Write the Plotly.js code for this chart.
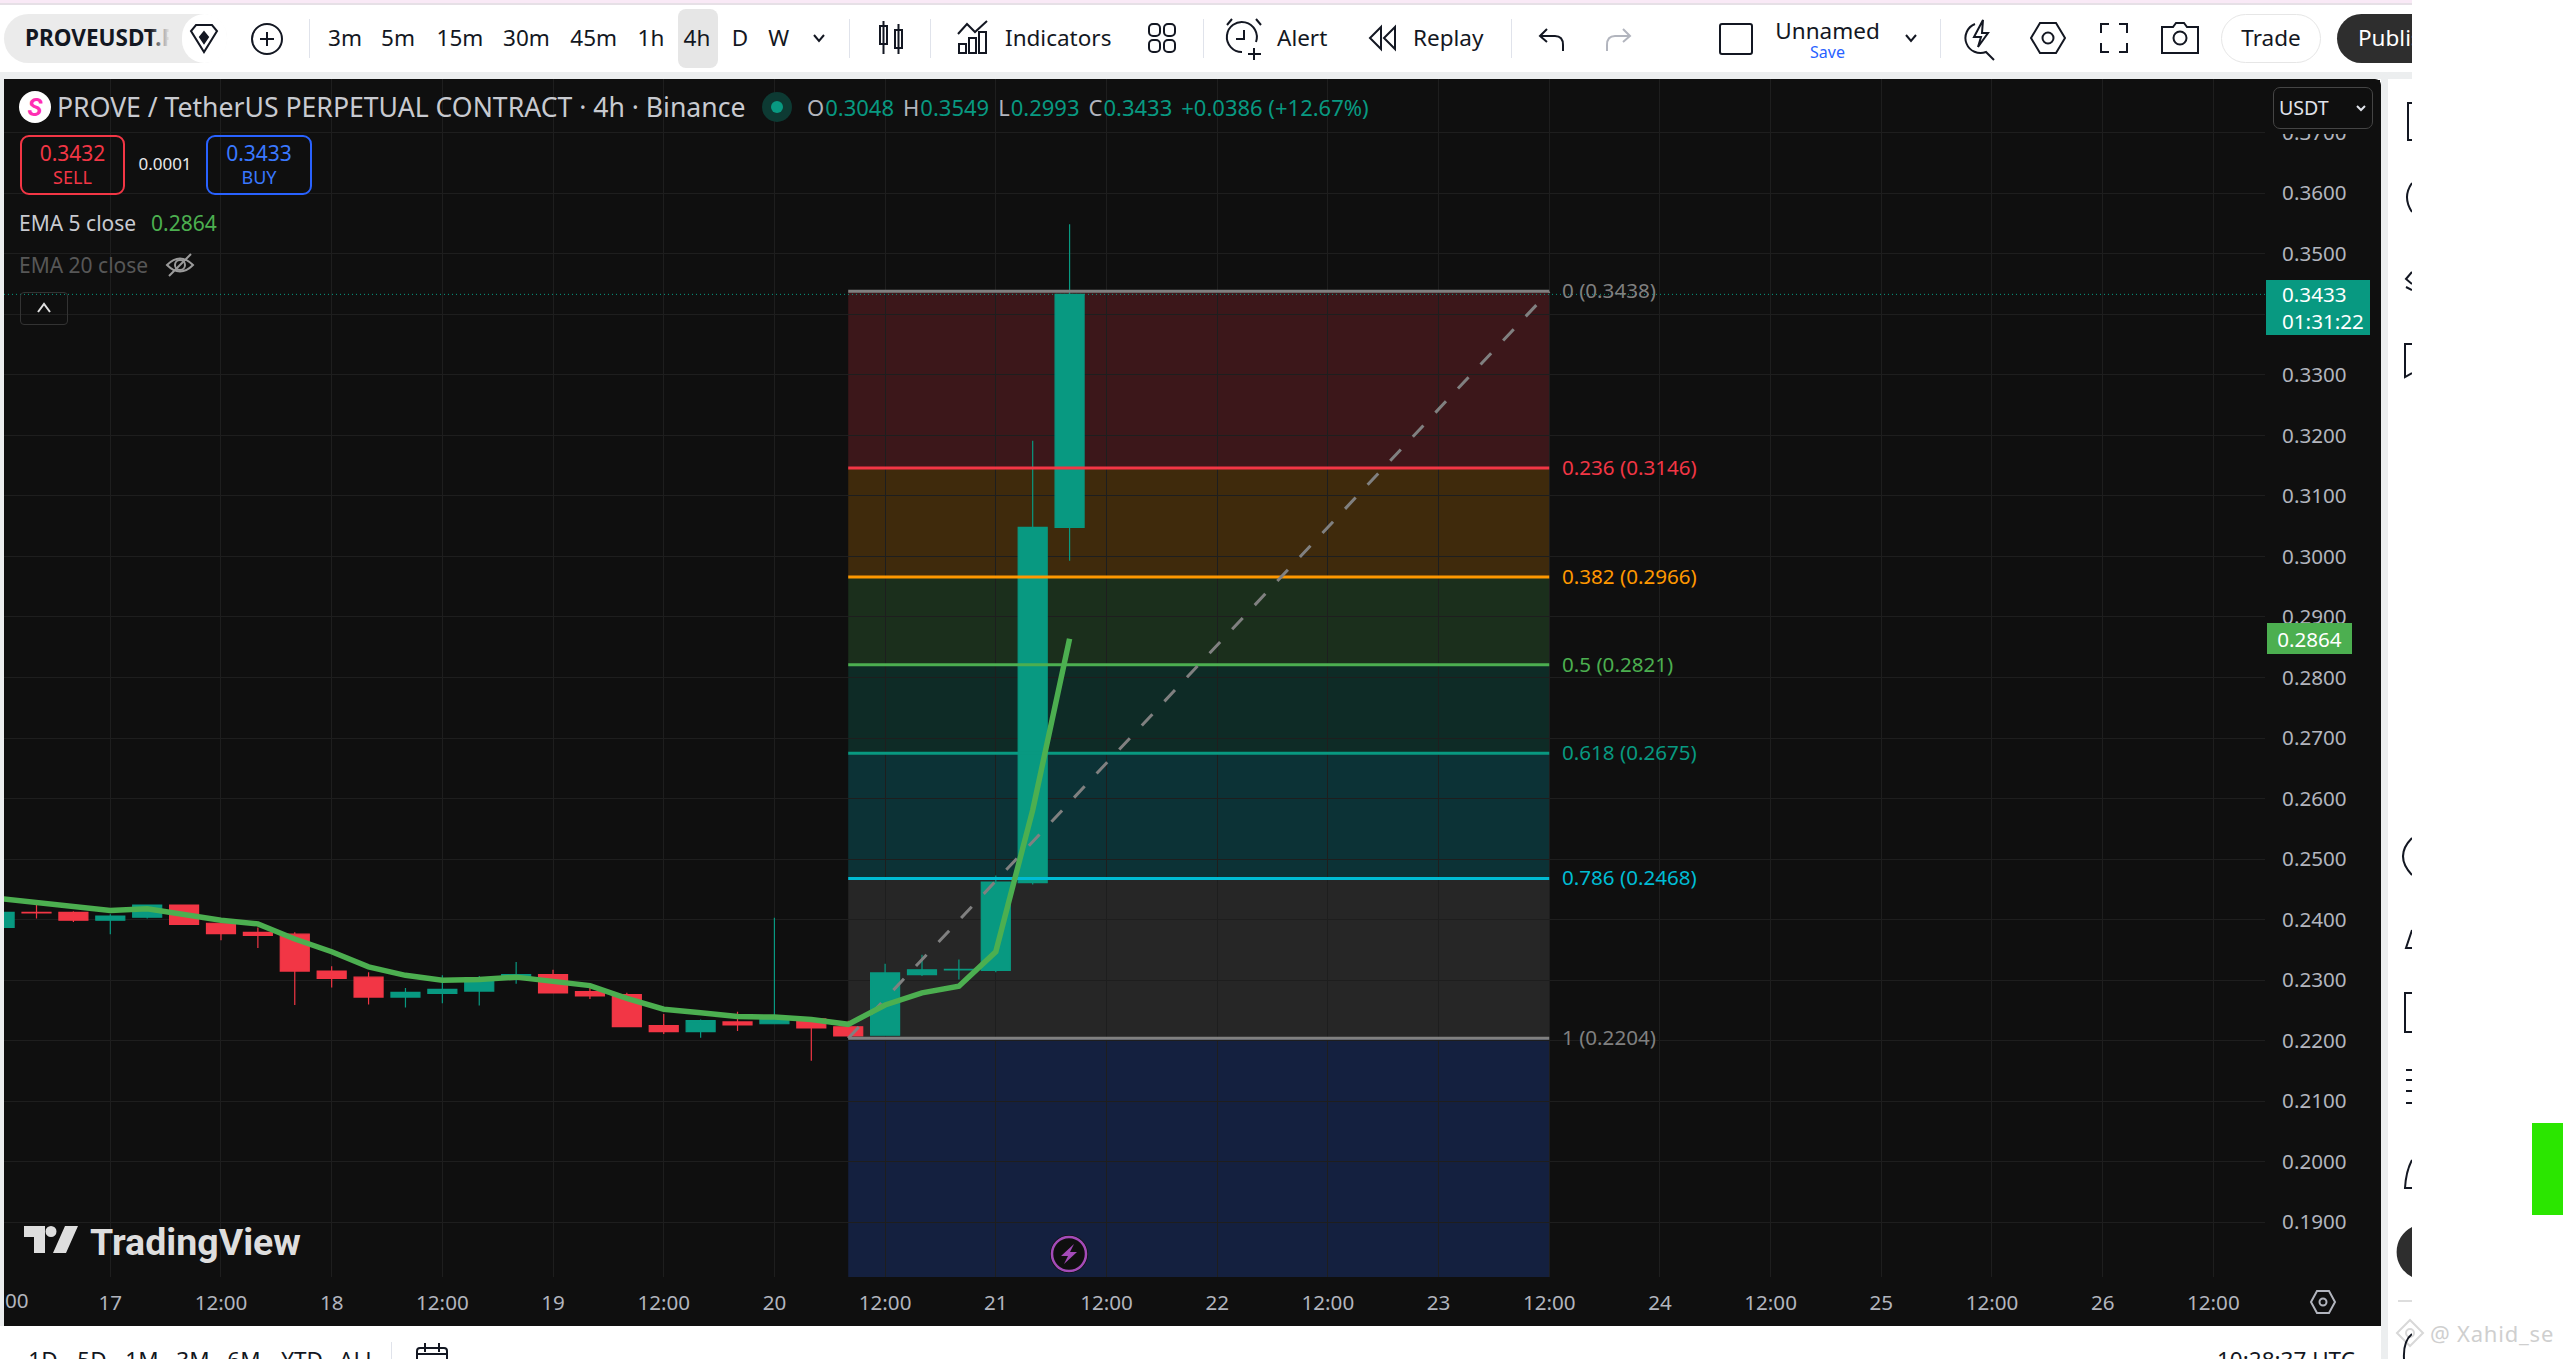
<!DOCTYPE html>
<html><head><meta charset="utf-8">
<script src="https://cdn.plot.ly/plotly-3.0.1.min.js"></script>
<style>
html,body{margin:0;padding:0;width:2563px;height:1359px;overflow:hidden;background:#fff;font-family:"Noto Sans",Roboto,sans-serif}
.a{position:absolute;white-space:nowrap}
.t{position:absolute;white-space:nowrap;transform:translate(-50%,-50%);color:#131722;font-size:22.5px;line-height:1}
.l{position:absolute;white-space:nowrap;transform:translateY(-50%);line-height:1}
#over svg{position:absolute;overflow:visible;fill:none;stroke:#131722;stroke-width:2}
#plot{position:absolute;left:0;top:0;width:2563px;height:1359px;z-index:2}
#under{z-index:1}#over{position:absolute;left:0;top:0;width:2563px;height:1359px;z-index:3;pointer-events:none}
</style></head><body>
<div id="under">
 <div class="a" style="left:0;top:0;width:2412px;height:3px;background:#f9e9f6"></div>
 <div class="a" style="left:0;top:3px;width:2412px;height:2px;background:#e6e0e6"></div>
 <div class="a" style="left:0;top:72px;width:2412px;height:7px;background:#eceeef"></div>
 <div class="a" style="left:0;top:72px;width:4px;height:1254px;background:#eceeef"></div>
 <div class="a" style="left:2381px;top:72px;width:7px;height:1287px;background:#eceeef"></div>
 <div class="a" style="left:4px;top:79px;width:2377px;height:1247px;background:#0f0f0f;border-radius:6px 6px 0 0"></div>
</div>
<div id="plot"></div>
<div id="over">
 <div id="toolbar" class="a" style="left:0;top:5px;width:2412px;height:67px;overflow:hidden"></div>
 <div id="legend"></div>
 <div id="rightclip" class="a" style="left:2388px;top:79px;width:24px;height:1280px;overflow:hidden"></div>
 <div id="bottom" class="a" style="left:0;top:1326px;width:2381px;height:33px;overflow:hidden"></div>
</div>
<script>
// ---------- data (4h bars, index 0 = day 17 00:00) ----------
const barIndex=[-3,-2,-1,0,1,2,3,4,5,6,7,8,9,10,11,12,13,14,15,16,17,18,19,20,21,22,23,24,25,26];
const opens =[0.2387,0.2412,0.2412,0.2399,0.2404,0.2424,0.2394,0.2379,0.2376,0.2315,0.2305,0.2272,0.2278,0.2282,0.2302,0.2309,0.2281,0.2276,0.2225,0.2215,0.2231,0.2228,0.2236,0.2223,0.2209,0.2309,0.2317,0.2316,0.2461,0.3048];
const highs =[0.2412,0.2427,0.2414,0.2409,0.2424,0.2424,0.2397,0.2387,0.2379,0.2323,0.2313,0.2287,0.2308,0.2307,0.2330,0.2317,0.2292,0.2279,0.2244,0.2235,0.2248,0.2403,0.2239,0.2233,0.2327,0.2342,0.2334,0.2473,0.3191,0.3549];
const lows  =[0.2387,0.2402,0.2396,0.2376,0.2402,0.2391,0.2366,0.2353,0.2259,0.2288,0.2260,0.2255,0.2262,0.2258,0.2294,0.2279,0.2269,0.2223,0.2211,0.2205,0.2216,0.2228,0.2167,0.2205,0.2208,0.2307,0.2301,0.2313,0.2458,0.2993];
const closes=[0.2412,0.2411,0.2399,0.2406,0.2424,0.2392,0.2377,0.2374,0.2315,0.2303,0.2272,0.2280,0.2285,0.2304,0.2309,0.2279,0.2274,0.2223,0.2215,0.2233,0.2226,0.2236,0.2221,0.2208,0.2312,0.2317,0.2318,0.2462,0.3048,0.3433];
const emaX=[-3,-2,-1,0,1,2,3,4,5,6,7,8,9,10,11,12,13,14,15,16,17,18,19,20,21,22,23,24,25,26];
const ema5=[0.2435,0.2428,0.2420,0.2415,0.2418,0.2409,0.2399,0.2393,0.2368,0.2347,0.2322,0.2308,0.2300,0.2301,0.2305,0.2298,0.2291,0.2270,0.2252,0.2246,0.2240,0.2239,0.2235,0.2227,0.2259,0.2279,0.2290,0.2347,0.2581,0.2864];
const fibLabels=["0","0.236","0.382","0.5","0.618","0.786","1"];
const fibPrices=[0.3438,0.3146,0.2966,0.2821,0.2675,0.2468,0.2204];
const fibColors=["#808080","#f23645","#ff9800","#4caf50","#089981","#00bcd4","#808080"];
const fibFills =["rgba(242,54,69,.2)","rgba(255,152,0,.2)","rgba(76,175,80,.2)","rgba(8,153,129,.2)","rgba(0,188,212,.2)","rgba(128,128,128,.2)","rgba(41,98,255,.2)"];
const fibStart=20, fibEnd=39, fibFloor=0.17;
const lastPrice=0.3433, lastCountdown="01:31:22", emaLast=0.2864;
const xTickVals=[0,3,6,9,12,15,18,21,24,27,30,33,36,39,42,45,48,51,54,57];
const xTickText=["17","12:00","18","12:00","19","12:00","20","12:00","21","12:00","22","12:00","23","12:00","24","12:00","25","12:00","26","12:00"];
const yTickVals=[0.19,0.20,0.21,0.22,0.23,0.24,0.25,0.26,0.27,0.28,0.29,0.30,0.31,0.32,0.33,0.34,0.35,0.36,0.37];
const timeframes=[["3m",345],["5m",398],["15m",460],["30m",526.5],["45m",593.7],["1h",651],["4h",697],["D",740],["W",778.6]];
const rangeButtons=[["1D",43],["5D",92],["1M",142],["3M",193],["6M",244],["YTD",302],["ALL",358]];
// -----------------------------------------------------------
const GREEN="#089981",RED="#f23645",GRID="#1e1e1e",AXT="#b2b5be",FF='"Noto Sans",Roboto,sans-serif',FS=20.6;
const xr=[-2.881,58.40], yr=[0.18096,0.37888];
const traces=[];
fibPrices.forEach((p,i)=>traces.push({type:"scatter",mode:"lines",x:[fibStart,fibEnd],y:[p,p],line:{color:fibColors[i],width:3},hoverinfo:"skip",showlegend:false}));
traces.push({type:"scatter",mode:"lines",x:[fibStart,fibEnd],y:[fibPrices[6],fibPrices[0]],line:{color:"#808080",width:3,dash:"15.5px,17.5px"},hoverinfo:"skip",showlegend:false});
traces.push({type:"scatter",mode:"lines",x:emaX,y:ema5,line:{color:"#4caf50",width:5.5,shape:"linear"},hoverinfo:"skip",showlegend:false});
traces.push({type:"candlestick",x:barIndex,open:opens,high:highs,low:lows,close:closes,whiskerwidth:0,
  increasing:{line:{color:GREEN,width:1.2},fillcolor:GREEN},decreasing:{line:{color:RED,width:1.2},fillcolor:RED},hoverinfo:"skip",showlegend:false});
traces.push({type:"scatter",mode:"lines",x:xr,y:[lastPrice,lastPrice],line:{color:GREEN,width:1,dash:"1px,3px"},hoverinfo:"skip",showlegend:false});

const shapes=fibFills.map((f,i)=>({type:"rect",layer:"below",xref:"x",yref:"y",x0:fibStart,x1:fibEnd,y0:fibPrices[i],y1:i<6?fibPrices[i+1]:fibFloor,fillcolor:f,line:{width:0}}));

const annotations=fibLabels.map((l,i)=>({xref:"x",yref:"y",x:fibEnd,y:fibPrices[i],xanchor:"left",yanchor:"middle",xshift:11,yshift:1,showarrow:false,
  text:l+" ("+fibPrices[i].toFixed(4)+")",font:{family:FF,size:FS,color:fibColors[i]}}));
annotations.push({xref:"paper",yref:"y",x:1,y:lastPrice,xanchor:"left",yanchor:"middle",xshift:1,yshift:-13.5,showarrow:false,width:104,height:55,borderpad:0,borderwidth:0,align:"left",bgcolor:GREEN,
  text:"\u00a0\u00a0\u00a0"+lastPrice.toFixed(4)+"<br>\u00a0\u00a0\u00a0"+lastCountdown,font:{family:FF,size:FS,color:"#fff"}});
annotations.push({xref:"paper",yref:"y",x:1,y:emaLast,xanchor:"left",yanchor:"middle",xshift:2,showarrow:false,width:85,height:31,borderpad:0,borderwidth:0,align:"center",bgcolor:"#4caf50",
  text:emaLast.toFixed(4),font:{family:FF,size:FS,color:"#fff"}});
annotations.push({xref:"paper",yref:"paper",x:0,y:0,xanchor:"left",yanchor:"top",yshift:-7,xshift:-1,showarrow:false,text:"00",font:{family:FF,size:FS,color:AXT}});
annotations.push({xref:"paper",yref:"paper",x:0,y:0,xanchor:"left",yanchor:"middle",xshift:84,yshift:35,showarrow:false,text:"<b>TradingView</b>",font:{family:"Roboto,sans-serif",size:37.5,color:"#dedede"}});

const layout={width:2563,height:1359,margin:{l:4,r:298,t:79,b:82,pad:0},autosize:false,showlegend:false,
 paper_bgcolor:"rgba(0,0,0,0)",plot_bgcolor:"#0f0f0f",boxmode:"overlay",boxgap:0.214,boxgroupgap:0,hovermode:false,dragmode:false,
 font:{family:FF,color:AXT,size:FS},
 xaxis:{type:"linear",range:xr,tickmode:"array",tickvals:xTickVals,ticktext:xTickText,showgrid:true,gridcolor:GRID,gridwidth:1,zeroline:false,showline:false,
   ticks:"outside",ticklen:7,tickcolor:"rgba(0,0,0,0)",tickfont:{size:FS,color:AXT,family:FF},rangeslider:{visible:false},fixedrange:true},
 yaxis:{type:"linear",side:"right",range:yr,tickmode:"array",tickvals:yTickVals,tickformat:".4f",showgrid:true,gridcolor:GRID,gridwidth:1,zeroline:false,showline:false,
   ticks:"outside",ticklen:12,tickcolor:"rgba(0,0,0,0)",tickfont:{size:FS,color:AXT,family:FF},fixedrange:true},
 shapes,annotations};
Plotly.newPlot("plot",traces,layout,{displayModeBar:false,staticPlot:true});

// ---------- page chrome ----------
const tb=document.getElementById("toolbar"),CY=33; // centre within toolbar (y=38 on page)
const add=(root,h)=>root.insertAdjacentHTML("beforeend",h);
add(tb,`<div class="a" style="left:4px;top:9px;width:223px;height:49px;border-radius:25px;background:#ebebeb"></div>
<div class="l" style="left:25px;top:${CY}px;font-size:22.5px;font-weight:700;color:#131722;width:148px;overflow:hidden">PROVEUSDT.P</div>
<div class="a" style="left:150px;top:14px;width:26px;height:38px;background:linear-gradient(90deg,rgba(235,235,235,0),#ebebeb 75%)"></div>
<div class="a" style="left:182px;top:9px;width:45px;height:49px;border-radius:25px;background:#fff"></div>
<svg style="left:204px;top:${CY}px" width="1" height="1"><path d="M-8 -13H8L13 -7 0 14-13 -7Z" /><path d="M0 -6L4 -1 0 5-4 -1Z" fill="#131722"/></svg>
<svg style="left:267px;top:${CY+1}px" width="1" height="1"><circle r="15"/><path d="M-7 0H7M0 -7V7"/></svg>
<div class="a" style="left:678px;top:4px;width:40px;height:59px;border-radius:8px;background:#e6e6e6"></div>`);
timeframes.forEach(([s,x])=>add(tb,`<div class="t" style="left:${x}px;top:${CY}px">${s}</div>`));
[309,849,930,1203,1511,1939.6].forEach(x=>add(tb,`<div class="a" style="left:${x}px;top:14px;width:1px;height:39px;background:#e0e3eb"></div>`));
const tx=(s,x)=>`<div class="l" style="left:${x}px;top:${CY}px;font-size:22.5px;color:#131722">${s}</div>`;
add(tb,`<svg style="left:819px;top:${CY}px" width="1" height="1"><path d="M-5 -3L0 3 5 -3"/></svg>
<svg style="left:891px;top:${CY}px" width="1" height="1"><rect x="-11" y="-12" width="7" height="18"/><rect x="4" y="-8" width="7" height="18"/><path d="M-7.500 -17V16M7.500 -14V16"/></svg>
<svg style="left:973px;top:${CY}px" width="1" height="1"><path d="M-15 -4L-6 -14 2 -6 14 -17"/><rect x="-14" y="6" width="7" height="9"/><rect x="-4" y="0" width="7" height="15"/><rect x="6" y="-6" width="7" height="21"/></svg>
${tx("Indicators",1005)}
<svg style="left:1162px;top:${CY}px" width="1" height="1"><rect x="-13" y="-14" width="11" height="12" rx="4"/><rect x="2" y="-14" width="11" height="12" rx="4"/><rect x="-13" y="2" width="11" height="12" rx="4"/><rect x="2" y="2" width="11" height="12" rx="4"/></svg>
<svg style="left:1244px;top:${CY}px" width="1" height="1"><path d="M12 4A15 15 0 1 0 -2 14M0 -8V1H-8M-12 -19L-17 -13M12 -19L17 -13M10 10V22M4 16H17"/></svg>${tx("Alert",1277)}
<svg style="left:1383px;top:${CY}px" width="1" height="1"><path d="M-2 -11L-13 0-2 11ZM12 -11L1 0 12 11Z"/></svg>${tx("Replay",1413)}
<svg style="left:1552px;top:${CY}px" width="1" height="1"><path d="M-5 -9L-12 -2-5 4M-12 -2H3Q11 -2 11 7V13"/></svg>
<svg style="left:1618px;top:${CY}px" width="1" height="1"><path stroke="#b2b5be" d="M5 -9L12 -2 5 4M12 -2H-3Q-11 -2-11 7V13"/></svg>
<div class="a" style="left:1719px;top:18px;width:30px;height:28px;border:2px solid #131722;border-radius:3px"></div>
<div class="t" style="left:1827.500px;top:26px">Unnamed</div>
<div class="t" style="left:1827.500px;top:47px;font-size:16px;color:#2962ff">Save</div>
<svg style="left:1911px;top:${CY}px" width="1" height="1"><path d="M-5 -3L0 3 5 -3"/></svg>
<svg style="left:1980px;top:${CY}px" width="1" height="1"><path d="M-5 -14A15 15 0 1 0 6 14L14 22M3 -18L-6 -1H1L-2 9 8 -5H2Z"/></svg>
<svg style="left:2047.500px;top:${CY}px" width="1" height="1"><path d="M-8 -15H8L17 0 8 15H-8L-17 0Z"/><circle r="5.500"/></svg>
<svg style="left:2113.500px;top:${CY}px" width="1" height="1"><path d="M-5 -14H-13V-5M5 -14H13V-5M-13 5V14H-5M13 5V14H5"/></svg>
<svg style="left:2179.500px;top:${CY}px" width="1" height="1"><path d="M-18 -11H-7L-4 -15H4L7 -11H18V15H-18Z"/><circle r="6.500"/></svg>
<div class="a" style="left:2221px;top:9px;width:100px;height:49px;border:1px solid #e6e6e6;border-radius:25px;box-sizing:border-box"></div>
<div class="t" style="left:2271px;top:${CY}px">Trade</div>
<div class="a" style="left:2337px;top:9px;width:130px;height:49px;border-radius:25px;background:#2e2e2e"></div>
<div class="l" style="left:2358px;top:${CY}px;font-size:22.5px;color:#fff">Publish</div>`);

const lg=document.getElementById("legend");
const ohlc=(k,v)=>`<span style="color:${AXT};margin-right:1px">${k}</span><span style="color:${GREEN}">${v}</span><span style="display:inline-block;width:9px"></span>`;
add(lg,`<svg style="left:35px;top:107px" width="1" height="1"><circle r="16" fill="#fff" stroke="none"/><text x="0" y="9" text-anchor="middle" font-size="25" font-weight="700" font-style="italic" fill="#ff2fb3" stroke="none" font-family="Roboto">S</text></svg>
<div class="l" style="left:57px;top:107px;font-size:26.6px;color:#c8cad0">PROVE / TetherUS PERPETUAL CONTRACT · 4h · Binance</div>
<svg style="left:777px;top:107px" width="1" height="1"><circle r="15" fill="#0d3a33" stroke="none"/><circle r="6" fill="${GREEN}" stroke="none"/></svg>
<div class="l" style="left:807px;top:107px;font-size:22px">${ohlc("O","0.3048")}${ohlc("H","0.3549")}${ohlc("L","0.2993")}${ohlc("C","0.3433")}<span style="color:${GREEN}">+0.0386 (+12.67%)</span></div>
<div class="a" style="left:20px;top:135px;width:105px;height:60px;border:2px solid ${RED};border-radius:9px;box-sizing:border-box"></div>
<div class="t" style="left:72.500px;top:153px;font-size:21px;color:${RED}">0.3432</div>
<div class="t" style="left:72.500px;top:177px;font-size:18px;color:${RED}">SELL</div>
<div class="t" style="left:165px;top:163px;font-size:17px;color:#e8e8e8">0.0001</div>
<div class="a" style="left:206px;top:135px;width:106px;height:60px;border:2px solid #2962ff;border-radius:9px;box-sizing:border-box"></div>
<div class="t" style="left:259px;top:153px;font-size:21px;color:#3a78ff">0.3433</div>
<div class="t" style="left:259px;top:177px;font-size:18px;color:#3a78ff">BUY</div>
<div class="l" style="left:19px;top:223px;font-size:21px;color:#c8cad0">EMA 5 close</div>
<div class="l" style="left:151px;top:223px;font-size:21px;color:#4caf50">0.2864</div>
<div class="l" style="left:19px;top:265px;font-size:21px;color:#575757">EMA 20 close</div>
<svg style="left:180px;top:265px" width="1" height="1" ><path stroke="#9a9a9a" d="M-13 0Q0 -13 13 0Q0 13-13 0ZM-11 11L11 -11"/><circle r="5" stroke="#9a9a9a"/></svg>
<div class="a" style="left:20px;top:292px;width:48px;height:33px;border:1px solid #333;border-radius:4px;box-sizing:border-box"></div>
<svg style="left:44px;top:308px" width="1" height="1"><path stroke="#e0e0e0" d="M-6 4L0 -4 6 4"/></svg>
<div class="a" style="left:2268px;top:80px;width:112px;height:54px;background:#0f0f0f"></div>
<div class="a" style="left:2273px;top:87px;width:100px;height:42px;background:#0f0f0f;border:1px solid #454545;border-radius:7px;box-sizing:border-box"></div>
<div class="l" style="left:2279px;top:108px;font-size:19.600px;color:#e0e3eb">USDT</div>
<svg style="left:2361px;top:108px" width="1" height="1"><path stroke="#e0e3eb" d="M-4 -2L0 2 4 -2"/></svg>
<svg style="left:2323px;top:1302px" width="1" height="1"><path stroke="${AXT}" d="M-6 -11H6L12 0 6 11H-6L-12 0Z"/><circle r="3.500" stroke="${AXT}"/></svg>
<svg style="left:1069px;top:1254px" width="1" height="1"><circle r="19" fill="#0f0f0f" stroke="none"/><circle r="17" stroke="#a44bb8" stroke-width="2.500"/><path fill="#a44bb8" stroke="none" d="M5 -10L-8 2H-1L-5 10 8 -2H1Z"/></svg>
<svg style="left:24px;top:1226px" width="54" height="27"><path stroke="none" fill="#dedede" d="M0 0H21V27H10V11H0ZM27 0A5.500 5.500 0 1 1 27 11 5.500 5.500 0 0 1 27 0ZM41 0H54L42 27H29Z"/></svg>
<div class="a" style="left:2532px;top:1123px;width:31px;height:92px;background:#2be600"></div>
<div class="l" style="left:2430px;top:1333px;font-size:22px;color:#cfcfcf">@</div>
<div class="l" style="left:2457px;top:1333px;font-size:22px;color:#cfcfcf;letter-spacing:.8px">Xahid_se</div>
<svg style="left:2410px;top:1333px" width="1" height="1"><path stroke="#d8d8d8" d="M0 -13L13 0 0 13-13 0Z"/><circle r="4" stroke="#d8d8d8"/></svg>`);

const rc=document.getElementById("rightclip");
add(rc,`<svg style="left:0;top:0" width="24" height="1280">
<path d="M24 24H20V61H24"/>
<path d="M24 104Q14 118 24 133"/>
<path d="M24 193L18 200 24 205M18 208L24 211"/>
<path d="M24 265H17V298L24 294"/>
<path d="M24 759Q6 777 24 796"/>
<path d="M24 851L18 869H24"/>
<path d="M24 914H17V953H24"/>
<path d="M18 991H24M18 1001H24M18 1012H24M18 1024H24"/>
<path d="M24 1081Q18 1092 17 1109H24"/>
<path fill="#2e2e2e" stroke="none" d="M24 1148A28 28 0 0 0 24 1198Z"/>
<path stroke="#ddd" d="M10 1222H24"/>
<path d="M24 1255Q15 1262 16 1280"/>
</svg>`);

const bt=document.getElementById("bottom");
rangeButtons.forEach(([s,x])=>add(bt,`<div class="t" style="left:${x}px;top:34px;font-size:22.5px">${s}</div>`));
add(bt,`<div class="a" style="left:391px;top:16px;width:1px;height:17px;background:#e0e3eb"></div>
<svg style="left:432px;top:0" width="1" height="1"><path d="M-15 33V25Q-15 22-12 22H12Q15 22 15 25V33M-15 28H15M-7 17V26M7 17V26"/></svg>
<div class="l" style="left:2217px;top:34px;font-size:22.5px;color:#131722">10:28:37 UTC</div>`);
</script>
</body></html>
